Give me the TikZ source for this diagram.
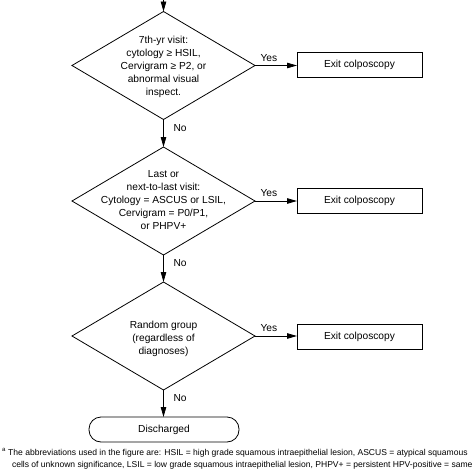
\documentclass[tikz,border=0pt]{standalone}
\usepackage{fontspec}
\setmainfont{Liberation Sans}
\usetikzlibrary{shapes.geometric,arrows.meta}
\begin{document}
\begin{tikzpicture}[x=1pt,y=-1pt,
  every node/.style={inner sep=0pt, outer sep=0pt},
  decision/.style={draw, line width=0.8pt, diamond, minimum width=183pt, minimum height=108pt},
  dtext/.style={align=center, font=\fontsize{10.2}{13}\selectfont},
  exitbox/.style={draw, line width=0.8pt, rectangle, minimum width=125pt, minimum height=25pt, font=\fontsize{10.2}{13}\selectfont},
  term/.style={draw, line width=0.8pt, rectangle, rounded corners=12pt, minimum width=150pt, minimum height=25pt, font=\fontsize{10.2}{13}\selectfont},
  lbl/.style={font=\fontsize{10.2}{13}\selectfont},
  flow/.style={draw, line width=0.8pt, -{Triangle[length=10pt,width=5.5pt]}}
]
\useasboundingbox (0,0) rectangle (474,474);
\fill[white] (0,0) rectangle (474,474);

\coordinate (start) at (163.5,-1);
\node[decision] (d1) at (163.5,65.5) {};
\node[dtext] (t1) at (163.5,66.5) {7th-yr visit:\\cytology ≥ HSIL,\\Cervigram ≥ P2, or\\abnormal visual\\inspect.};
\node[exitbox] (e1) at (359.5,64.5) {Exit colposcopy};

\node[decision] (d2) at (163.5,201) {};
\node[dtext] (t2) at (163.5,200.5) {Last or\\next-to-last visit:\\Cytology = ASCUS or LSIL,\\Cervigram = P0/P1,\\or PHPV+};
\node[exitbox] (e2) at (359.5,201) {Exit colposcopy};

\node[decision] (d3) at (163.5,336) {};
\node[dtext] (t3) at (163.5,338.5) {Random group\\(regardless of\\diagnoses)};
\node[exitbox] (e3) at (359.5,336.5) {Exit colposcopy};

\node[term] (dis) at (164,429.5) {Discharged};

\draw[flow] (start) -- (d1.north);
\draw[flow] (d1.east) -- (e1.west |- d1.east) node[lbl, pos=0.33, above=4pt] {Yes};
\draw[flow] (d1.south) -- (d2.north) node[lbl, pos=0.3, right=10pt] {No};
\draw[flow] (d2.east) -- (e2.west |- d2.east) node[lbl, pos=0.33, above=4pt] {Yes};
\draw[flow] (d2.south) -- (d3.north) node[lbl, pos=0.3, right=10pt] {No};
\draw[flow] (d3.east) -- (e3.west |- d3.east) node[lbl, pos=0.33, above=4pt] {Yes};
\draw[flow] (d3.south) -- (dis.north -| d3.south) node[lbl, pos=0.3, right=10pt] {No};

\node[anchor=north west, align=left, font=\fontsize{8.55}{12}\selectfont] (fn) at (2,448)
{\textsuperscript{a} The abbreviations used in the figure are: HSIL = high grade squamous intraepithelial lesion, ASCUS = atypical squamous\\
\hspace*{10pt}cells of unknown significance, LSIL = low grade squamous intraepithelial lesion, PHPV+ = persistent HPV-positive = same};
\end{tikzpicture}
\end{document}
